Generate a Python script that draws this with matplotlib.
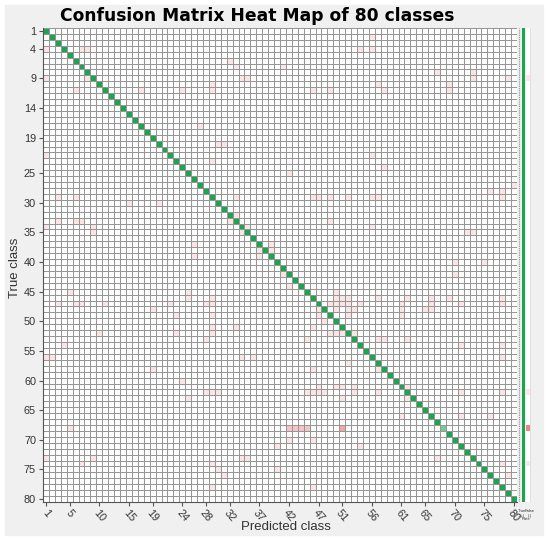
import numpy as np
import matplotlib.pyplot as plt
from matplotlib.patches import Rectangle

plt.rcParams['font.family'] = ['Liberation Sans', 'DejaVu Sans']

n_classes = 80
ytick_classes = [1, 4, 9, 14, 19, 25, 30, 35, 40, 45, 50, 55, 60, 65, 70, 75, 80]
xtick_classes = [1, 5, 10, 15, 19, 24, 28, 32, 37, 42, 47, 51, 56, 61, 65, 70, 75, 80]

# per-class true rate on the diagonal (class 68 is the weak one)
true_rate = [1.0] * 67 + [0.6] + [1.0] * 12

# off-diagonal errors, 0-based (true row, predicted col)
err_true = [3, 3, 3, 5, 6, 8, 8, 8, 8, 10, 10, 10, 9, 10, 16, 19, 19, 21, 22,
            1, 3, 3, 6, 10, 10, 9, 10, 7, 9, 10, 7, 8, 8, 21, 23, 24, 26,
            28, 28, 28, 29, 29, 32, 32, 32, 32, 31, 33, 33, 34, 33, 34, 36, 38, 36, 37, 38, 37,
            44, 44, 45, 46, 46, 46, 46, 46, 46, 46, 45, 47, 48, 48, 51, 51, 51, 50, 50, 52, 53,
            27, 27, 28, 28, 28, 28, 28, 28, 28, 32, 33, 34, 34, 39, 39, 41, 41, 43,
            44, 45, 45, 45, 46, 46, 46, 46, 46, 47, 47, 47, 47, 48, 48, 49, 50, 51, 51, 51, 51,
            52, 52, 52, 52, 45, 45, 46, 47, 48, 45, 47, 47, 46, 45, 46, 45, 46, 53, 53,
            55, 55, 55, 55, 57, 59, 61, 61, 61, 62, 67, 70, 72, 72, 72, 72, 73, 73, 74, 75, 74, 77,
            55, 56, 57, 57, 60, 60, 60, 60, 61, 61, 61, 61, 61, 61, 60, 61, 61, 62, 62,
            65, 65, 65, 67, 67, 67, 67, 67, 69, 69, 70, 72, 73, 75, 77]
err_pred = [0, 6, 7, 31, 32, 0, 7, 33, 34, 5, 16, 23, 28, 28, 26, 29, 30, 0, 28,
            55, 53, 55, 40, 45, 48, 56, 57, 66, 68, 68, 72, 72, 78, 55, 57, 41, 79,
            2, 5, 32, 14, 19, 2, 5, 6, 31, 32, 0, 8, 8, 34, 33, 25, 25, 38, 36, 36, 38,
            4, 24, 24, 2, 5, 6, 10, 21, 27, 28, 28, 18, 22, 28, 9, 22, 28, 28, 32, 27, 3,
            75, 77, 77, 45, 46, 48, 51, 55, 56, 48, 55, 71, 72, 69, 74, 69, 40, 41,
            49, 49, 50, 51, 48, 49, 50, 51, 53, 46, 49, 51, 52, 46, 51, 47, 45, 48, 49, 50, 52,
            44, 56, 57, 61, 56, 61, 60, 60, 60, 65, 64, 65, 65, 68, 70, 77, 77, 70, 77,
            0, 1, 33, 35, 18, 23, 27, 28, 29, 24, 4, 39, 0, 8, 33, 34, 6, 28, 29, 30, 39, 28,
            77, 51, 45, 56, 46, 49, 50, 52, 44, 45, 46, 47, 52, 56, 61, 70, 77, 50, 61,
            60, 70, 75, 41, 42, 43, 44, 50, 41, 45, 53, 66, 77, 78, 45]
# a few cells are darker than the rest
strong_true = [67, 67, 67, 67, 67]
strong_pred = [41, 42, 43, 44, 50]
strong_level = [0.28, 0.28, 0.28, 0.28, 0.42]

# false (-) rate column, only the visible ones
false_idx = [8, 61, 67, 73]
false_val = [0.12, 0.12, 0.6, 0.12]

green = np.array([26, 165, 80]) / 255
red = np.array([225, 45, 45]) / 255
white = np.ones(3)

img = np.ones((n_classes, n_classes, 3))
for r, c in zip(err_true, err_pred):
    img[r, c] = white * (1 - 0.13) + red * 0.13
for r, c, a in zip(strong_true, strong_pred, strong_level):
    img[r, c] = white * (1 - a) + red * a
for i, v in enumerate(true_rate):
    img[i, i] = white * (1 - v) + green * v

fig = plt.figure(figsize=(5.5, 5.41), dpi=100)
fig.patch.set_facecolor('white')
fig.patches.append(Rectangle((5 / 550, 1 - 535 / 541), 538 / 550, 530 / 541,
                             transform=fig.transFigure, color='#f0f0f0', zorder=-10))

ax = fig.add_axes([43 / 550, 1 - 502 / 541, 474 / 550, 474 / 541])
edges = np.arange(0, n_classes + 1)
ax.pcolormesh(edges, edges, img, edgecolors='#969696', linewidth=0.7)
ax.set_xlim(0, n_classes)
ax.set_ylim(n_classes, 0)
ax.set_xticks(np.array(xtick_classes) - 0.5)
ax.set_xticklabels([str(k) for k in xtick_classes], rotation=-50, ha='center', va='top')
ax.set_yticks(np.array(ytick_classes) - 0.5)
ax.set_yticklabels([str(k) for k in ytick_classes])
ax.tick_params(which='major', length=3, width=0.8, color='#555555', labelsize=7.8,
               labelcolor='#333333', pad=2)
ax.tick_params(axis='x', pad=1)
for s in ['top', 'right']:
    ax.spines[s].set_visible(False)
for s in ['left', 'bottom']:
    ax.spines[s].set_color('#555555')
    ax.spines[s].set_linewidth(0.8)

# summary columns on the right
ax2 = fig.add_axes([518 / 550, 1 - 502 / 541, 14 / 550, 474 / 541])
tr_col = np.ones((n_classes, 1, 3))
for i, v in enumerate(true_rate):
    tr_col[i, 0] = green
fr_col = np.ones((n_classes, 1, 3))
for i, v in zip(false_idx, false_val):
    fr_col[i, 0] = white * (1 - v) + red * v
rows = np.arange(0, n_classes + 1)
ax2.pcolormesh([3.5, 6.5], rows, tr_col)
ax2.pcolormesh([7.5, 12], rows, fr_col)
ax2.axvline(1.2, color='#909090', linewidth=0.8, linestyle=(0, (1, 1)))
ax2.axvline(12, color='#d8d8d8', linewidth=0.5)
ax2.set_xlim(0, 14)
ax2.set_ylim(n_classes, 0)
ax2.axis('off')

fig.text(522 / 550, 1 - 509 / 541, 'True\n(+)', fontsize=3, ha='center', va='top', color='#333333')
fig.text(530 / 550, 1 - 509 / 541, 'False\n(-)', fontsize=3, ha='center', va='top', color='#333333')
fig.text(526 / 550, 1 - 517 / 541, 'Rate', fontsize=3, ha='center', va='top', color='#333333')

fig.text(257 / 550, 1 - 16 / 541, 'Confusion Matrix Heat Map of 80 classes', fontsize=12.3,
         fontweight='heavy', family='DejaVu Sans', ha='center', va='center', color='black')
fig.text(15 / 550, 1 - 268 / 541, 'True class', rotation=90, fontsize=9.5, ha='center',
         va='center', color='#333333')
fig.text(286 / 550, 1 - 527 / 541, 'Predicted class', fontsize=9.5, ha='center', va='center',
         color='#333333')

fig.savefig('out.png', dpi=100, facecolor=fig.get_facecolor())
